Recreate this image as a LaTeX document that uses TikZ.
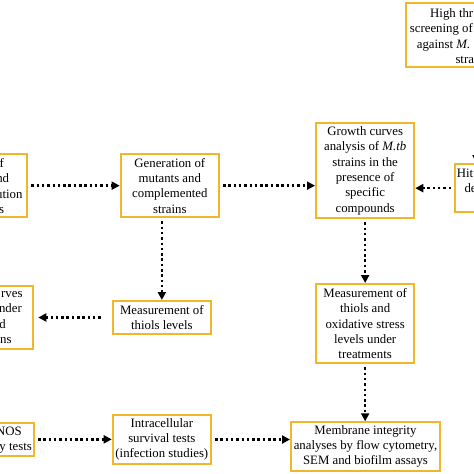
\documentclass[tikz,border=0pt]{standalone}
\usepackage{fontspec}
\setmainfont{Liberation Serif}
\usetikzlibrary{positioning, arrows.meta}
\definecolor{boxgold}{HTML}{F1B62A}
\newcommand{\padr}[1]{\rule{#1}{0pt}}

\begin{document}
\begin{tikzpicture}[
    x=1pt, y=-1pt,
    box/.style={rectangle, draw=boxgold, line width=2pt, fill=white, minimum width=98.3pt, align=center, inner sep=2pt, font=\fontsize{12.8}{15.3}\selectfont},
    frag/.style={inner sep=0pt, font=\fontsize{12.8}{15.3}\selectfont},
    arrow/.style={-{Triangle[length=8pt, width=8pt]}, line width=2.5pt, dash pattern=on 2.5pt off 2.8pt, shorten <=3pt}
]
\useasboundingbox (0,0) rectangle (474,474);
\clip (0,0) rectangle (474,474);
\fill[white] (0,0) rectangle (474,474);

% Nodes
\node[box, minimum height=63.3pt] (gen) at (169.85,185.65) {Generation of\\mutants and\\complemented\\strains};
\node[box, minimum height=95pt] (growth) at (365.15,170.8) {Growth curves\\analysis of \textit{M.tb}\\strains in the\\presence of\\specific\\compounds};
\node[box, minimum height=33pt] (thiols) at (161.85,317.5) {Measurement of\\thiols levels};
\node[box, minimum height=79.3pt] (stress) at (365.15,323.65) {Measurement of\\thiols and\\oxidative stress\\levels under\\treatments};
\node[box, minimum height=49pt] (intra) at (161.85,439.5) {Intracellular\\survival tests\\(infection studies)};
\node[box, minimum width=149pt, minimum height=48.4pt] (membrane) at (365.5,446.5) {Membrane integrity\\analyses by flow cytometry,\\SEM and biofilm assays};

% Boxes cut by the frame
\node[box, minimum height=63.3pt] (select) at (-21.85,185.65) {};
\node[frag, anchor=east, align=right] (selecttext) at (22.7,186.2) {f\padr{18.7pt}\\nd\padr{13.4pt}\\ution\\s\padr{18.4pt}};
\node[box, minimum height=63.3pt] (curves) at (-15.85,317.35) {};
\node[frag, anchor=east, align=right] (curvestext) at (22.7,317.5) {rves\\nder\padr{0.7pt}\\d\padr{16.7pt}\\ns\padr{11pt}};
\node[box, minimum height=33.3pt] (nos) at (-15.15,439.35) {};
\node[frag, anchor=east, align=right] (nostext) at (32,440) {NOS\padr{10pt}\\y tests};
\node[box, minimum width=141.6pt, minimum height=63.4pt] (screen) at (476.5,35) {};
\node[frag, anchor=west, align=left] (screentext) at (409.7,36.2) {\padr{20.3pt}High thr\\screening of\\\padr{7pt}against \textit{M.}\\\padr{45.6pt}stra};
\node[box, minimum height=48.3pt] (hit) at (504.15,188.15) {};
\node[frag, anchor=west, align=left] (hittext) at (456.7,180.8) {Hit\\\padr{7.6pt}de};

% Arrows
\draw[arrow] (select) -- (gen);
\draw[arrow] (gen) -- (gen -| growth.west);
\draw[arrow] (hit) -- (hit -| growth.east);
\draw[arrow] (gen.south -| thiols.north) -- (thiols.north);
\draw[arrow, shorten <=11pt, shorten >=4pt] (thiols) -- (thiols -| curves.east);
\draw[arrow] (growth) -- (stress);
\draw[arrow] (stress) -- (stress |- membrane.north);
\draw[arrow] (nos) -- (nos -| intra.west);
\draw[arrow] (intra) -- (intra -| membrane.west);
\draw[arrow] (screen) -- (screen |- hit.north);

\end{tikzpicture}
\end{document}
